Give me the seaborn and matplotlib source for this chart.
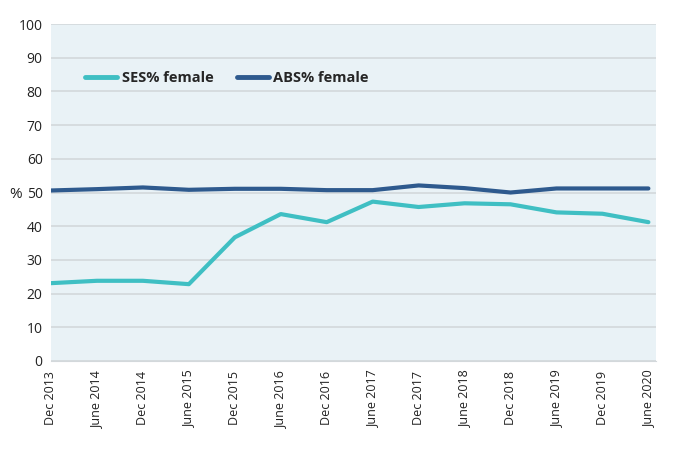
import matplotlib
matplotlib.use("Agg")
import matplotlib.pyplot as plt
import seaborn as sns
import pandas as pd

periods = ["Dec 2013", "June 2014", "Dec 2014", "June 2015", "Dec 2015", "June 2016",
           "Dec 2016", "June 2017", "Dec 2017", "June 2018", "Dec 2018", "June 2019",
           "Dec 2019", "June 2020"]
ses_female = [23.1, 23.8, 23.8, 22.8, 36.7, 43.6, 41.2, 47.3, 45.7, 46.8, 46.5, 44.1, 43.7, 41.2]
abs_female = [50.6, 51.0, 51.5, 50.8, 51.1, 51.1, 50.7, 50.7, 52.1, 51.3, 50.0, 51.2, 51.2, 51.2]

df = pd.DataFrame({
    "idx": list(range(len(periods))) * 2,
    "value": ses_female + abs_female,
    "series": ["SES% female"] * len(periods) + ["ABS% female"] * len(periods),
})

sns.set_style("white")
plt.rcParams["font.family"] = ["Open Sans", "DejaVu Sans"]

fig = plt.figure(figsize=(6.8, 4.49), dpi=100)
ax = fig.add_axes([0.075, 0.196, 0.89, 0.7505])
ax.set_facecolor("#e9f2f6")

sns.lineplot(data=df, x="idx", y="value", hue="series",
             palette={"SES% female": "#3fbfc3", "ABS% female": "#2e5a8e"},
             linewidth=3, ax=ax)

ax.set_ylim(0, 100)
ax.set_xlim(0, len(periods) - 1 + 0.17)
ax.set_yticks(range(0, 101, 10))
ax.set_xticks(range(len(periods)))
ax.set_xticklabels(periods, rotation=90)
ax.yaxis.grid(True, color="#d3d8db", linewidth=1.2)
ax.set_axisbelow(True)
for s in ["top", "right", "left"]:
    ax.spines[s].set_visible(False)
ax.spines["bottom"].set_color("#d3d8db")
ax.tick_params(axis="x", length=4, color="#c8cdd0", labelsize=9, pad=3, labelcolor="#222222")
ax.tick_params(axis="y", length=0, labelsize=10, pad=6, labelcolor="#222222")
ax.set_xlabel("")
ax.set_ylabel("%", rotation=0, fontsize=11, color="#222222", va="center", ha="center")
ax.yaxis.set_label_coords(-0.059, 0.495)

leg = ax.legend(loc="upper left", bbox_to_anchor=(0.035, 0.9), ncol=2, frameon=False,
                handlelength=2.2, handletextpad=0.3, columnspacing=1.6,
                prop={"size": 10.5, "weight": "bold"})
for line in leg.get_lines():
    line.set_linewidth(3.5)

fig.savefig("out.png", dpi=100)
